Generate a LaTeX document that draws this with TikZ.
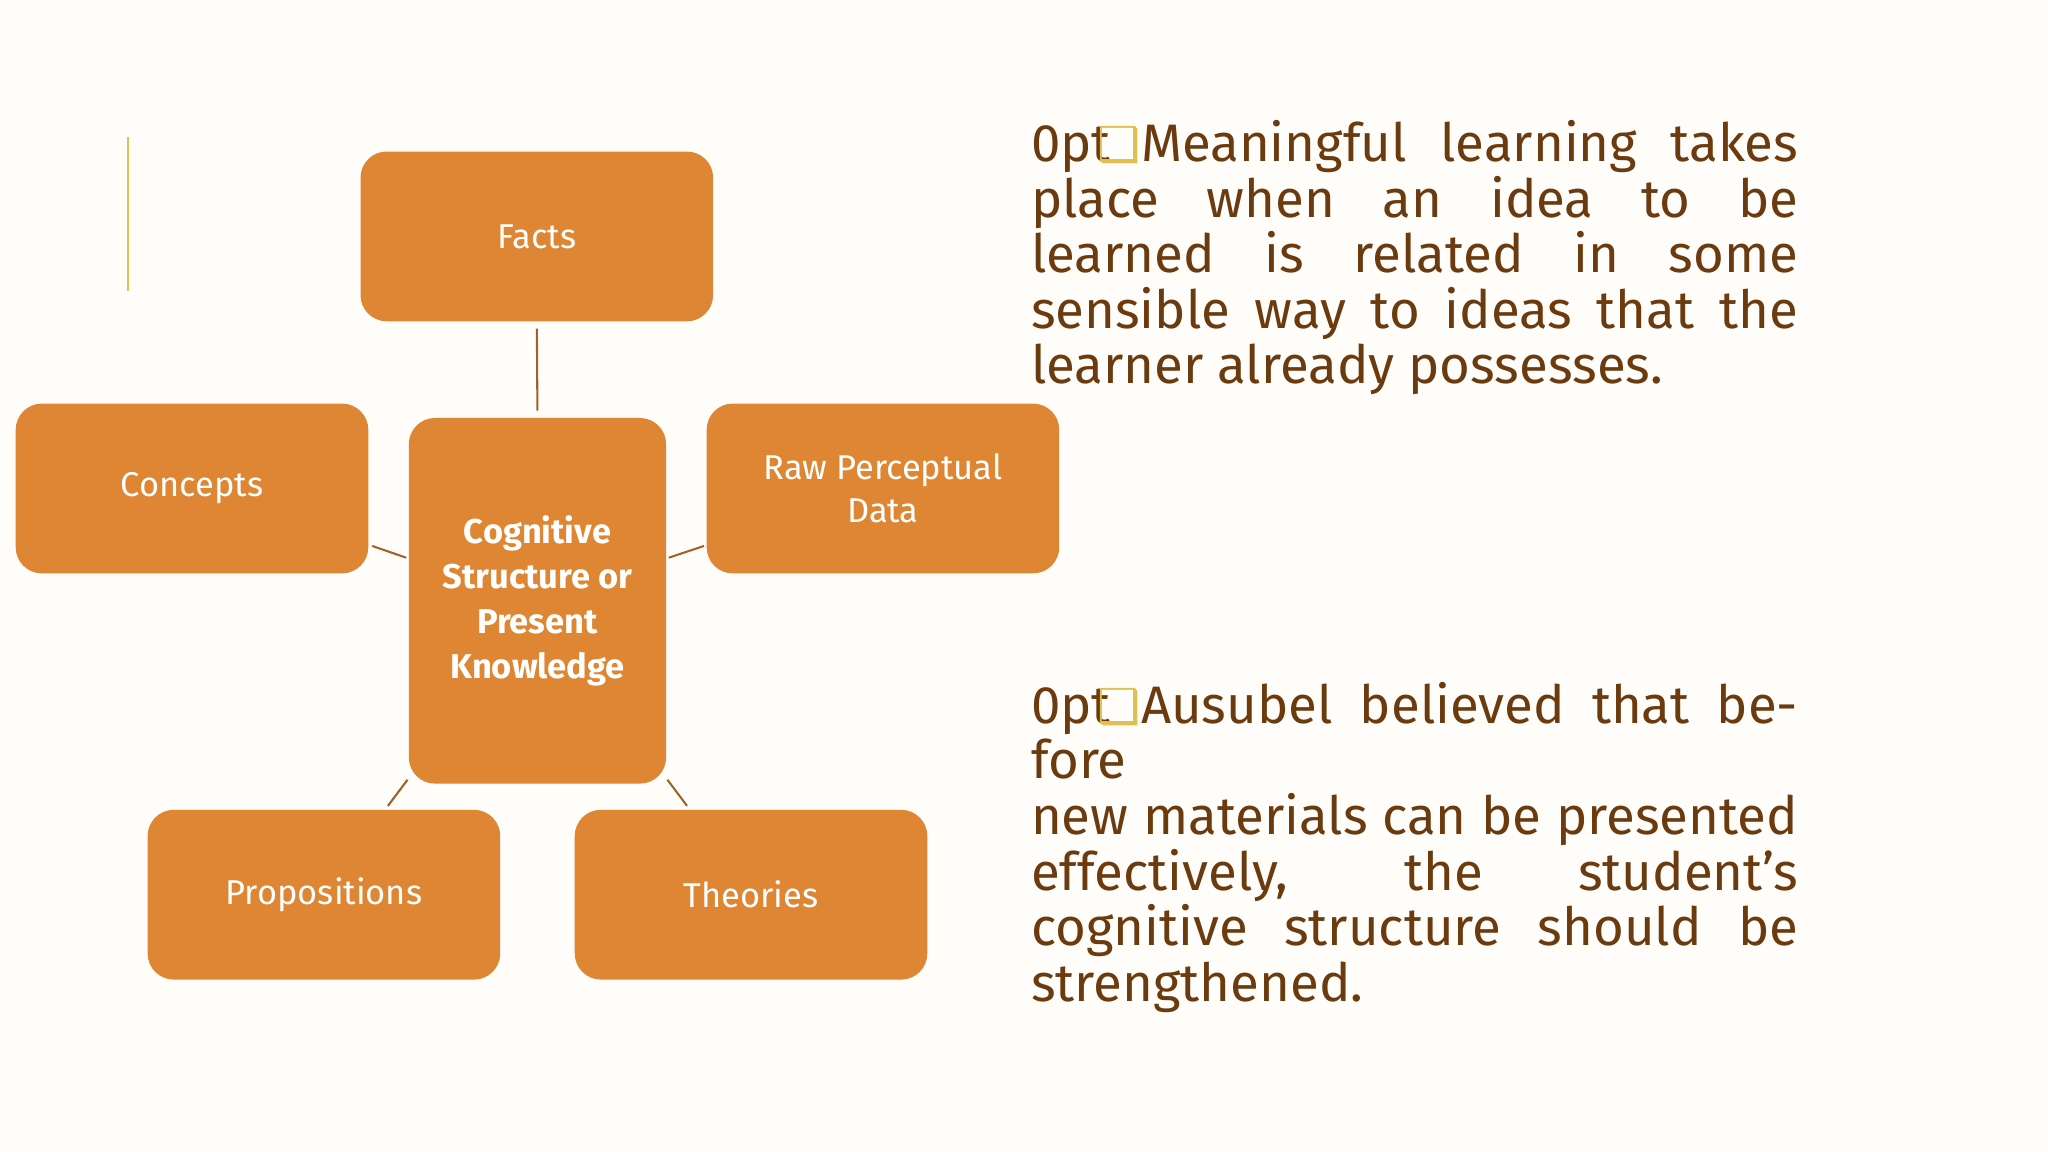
\documentclass[tikz,border=0pt]{standalone}
\usepackage{fontspec}
\setmainfont{Fira Sans}
\newfontfamily\symf{DejaVu Sans}
\definecolor{boxc}{HTML}{DE8633}
\definecolor{txtc}{HTML}{6B3A0E}
\definecolor{linec}{HTML}{A0622A}
\definecolor{yel}{HTML}{E0C050}
\definecolor{bgc}{HTML}{FFFDFA}
\begin{document}
\begin{tikzpicture}[x=0.02cm,y=-0.02cm,
  obox/.style={fill=boxc,draw=none,rounded corners=0.4cm,text=white,align=center,font=\fontsize{15}{19}\selectfont},
  conn/.style={draw=linec,line width=0.9pt},
  para/.style={anchor=north west,text width=11.75cm,align=justify,text=txtc,inner sep=0pt,font=\fontsize{23}{24.2}\selectfont\hyphenpenalty=10000\emergencystretch=3cm}]
\fill[bgc] (0,0) rectangle (1568,882);
\useasboundingbox (0,0) rectangle (1568,882);
\draw[yel,line width=1.2pt] (98,105) -- (98,223);
\node[obox,minimum width=5.4cm,minimum height=2.6cm] (facts) at (411,181) {Facts};
\node[obox,minimum width=5.4cm,minimum height=2.6cm] (concepts) at (147,374) {Concepts};
\node[obox,minimum width=5.4cm,minimum height=2.6cm] (raw) at (676,374) {Raw Perceptual\\Data};
\node[obox,minimum width=3.94cm,minimum height=5.6cm,font=\bfseries\fontsize{15}{19.5}\selectfont] (center) at (411.5,460) {Cognitive\\Structure or\\Present\\Knowledge};
\node[obox,minimum width=5.4cm,minimum height=2.6cm] (props) at (248,685) {Propositions};
\node[obox,minimum width=5.4cm,minimum height=2.6cm] (theo) at (575,685) {Theories};
\draw[conn,shorten <=3pt,shorten >=3pt] (facts.south) -- (center.north);
\coordinate (cl) at (311,427); \coordinate (cl2) at (285,418);
\draw[conn] (cl2) -- (cl);
\coordinate (cr) at (512,427); \coordinate (cr2) at (539,418);
\draw[conn] (cr) -- (cr2);
\coordinate (bl) at (312,597); \coordinate (bl2) at (297,617);
\draw[conn] (bl) -- (bl2);
\coordinate (br) at (511,597); \coordinate (br2) at (526,617);
\draw[conn] (br) -- (br2);
\node[para] (p1) at (789,92) {\hspace*{-0.2cm}{\color{yel}\symf\fontsize{21}{20}\selectfont ❑}Meaningful learning takes\linebreak place when an idea to be\linebreak learned is related in some\linebreak sensible way to ideas that the\linebreak learner already possesses.};
\node[para] (p2) at (789,522) {\hspace*{-0.2cm}{\color{yel}\symf\fontsize{21}{20}\selectfont ❑}Ausubel believed that before\linebreak new materials can be presented\linebreak effectively, the student’s\linebreak cognitive structure should be\linebreak strengthened.};
\end{tikzpicture}
\end{document}
